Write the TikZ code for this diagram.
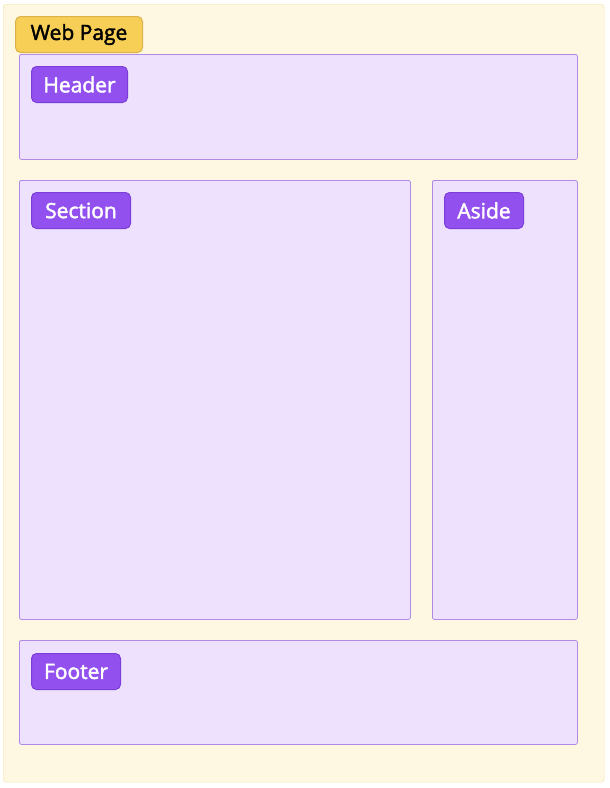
\documentclass[tikz,border=0pt]{standalone}
\usepackage{fontspec}
\setmainfont{Open Sans}
\newfontfamily\tagfont[FakeBold=2]{Open Sans}
\usetikzlibrary{positioning}
\definecolor{pagefill}{HTML}{FEF7E1}
\definecolor{pageline}{HTML}{F3E2A6}
\definecolor{webfill}{HTML}{F7CF56}
\definecolor{webline}{HTML}{DDB14A}
\definecolor{areafill}{HTML}{EDE1FD}
\definecolor{arealine}{HTML}{B08AE6}
\definecolor{tagfill}{HTML}{9250EE}
\definecolor{tagline}{HTML}{7B3FD8}

\begin{document}
\begin{tikzpicture}[x=1pt,y=-1pt,
    area/.style={draw=arealine,fill=areafill,rounded corners=2pt,anchor=north west,inner sep=0pt,line width=0.8pt},
    tag/.style={draw=tagline,fill=tagfill,text=white,rounded corners=5pt,anchor=north west,inner sep=0pt,minimum height=36pt,line width=1pt,font=\tagfont\fontsize{21}{21}\selectfont},
    webtag/.style={tag,draw=webline,fill=webfill,text=black}]
  \useasboundingbox (0,0) rectangle (610,788);
  % page
  \node[draw=pageline,fill=pagefill,rounded corners=3pt,anchor=north west,inner sep=0pt,minimum width=601pt,minimum height=778pt] (page) at (3,4) {};
  \node[webtag,minimum width=127pt] (webpage) at (15,16) {Web Page};
  % areas
  \node[area,minimum width=558pt,minimum height=105pt] (header) at (19,54) {};
  \node[area,minimum width=391pt,minimum height=439pt] (section) at (19,180) {};
  \node[area,minimum width=145pt,minimum height=439pt] (aside) at (432,180) {};
  \node[area,minimum width=558pt,minimum height=104pt] (footer) at (19,640) {};
  % tags
  \node[tag,minimum width=96pt,below right=12pt and 12pt of header.north west,anchor=north west] (headertag) {Header};
  \node[tag,minimum width=99pt,below right=12pt and 12pt of section.north west,anchor=north west] (sectiontag) {Section};
  \node[tag,minimum width=79pt,below right=12pt and 12pt of aside.north west,anchor=north west] (asidetag) {Aside};
  \node[tag,minimum width=89pt,below right=13pt and 12pt of footer.north west,anchor=north west] (footertag) {Footer};
\end{tikzpicture}
\end{document}
